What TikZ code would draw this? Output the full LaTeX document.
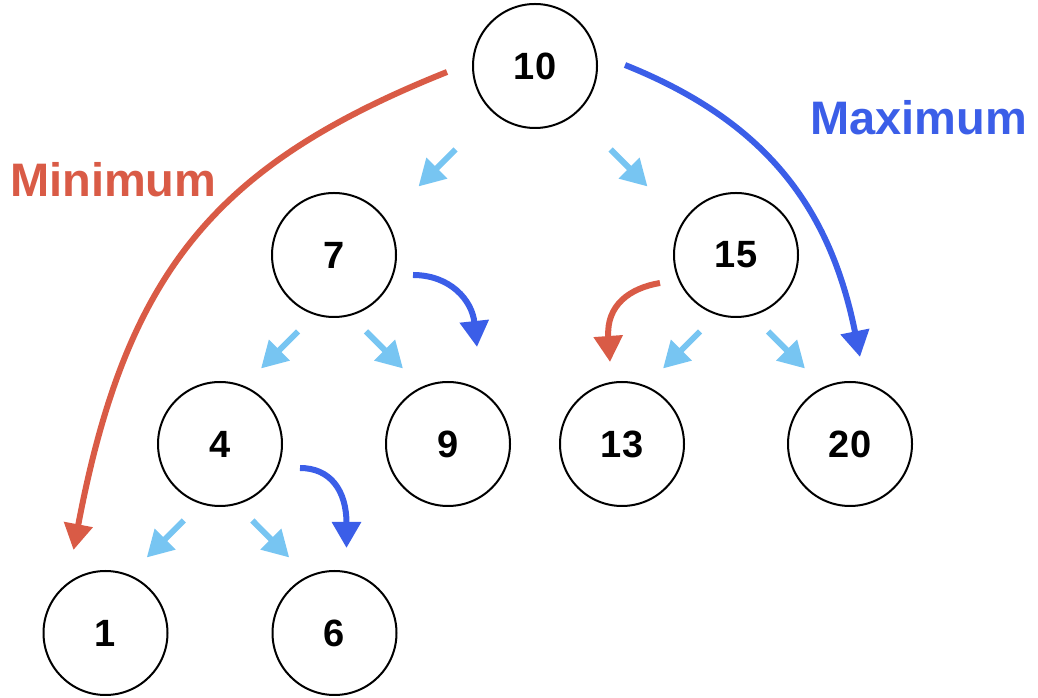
\documentclass[tikz,border=0pt]{standalone}
\usepackage{fontspec}
\setmainfont{Liberation Sans}
\usepackage{xcolor}
\usepackage{tikz}
\usetikzlibrary{trees,calc,arrows.meta}

\definecolor{minred}{HTML}{D95B46}
\definecolor{maxblue}{HTML}{3B5EE8}
\definecolor{stepblue}{HTML}{77C5F2}

\begin{document}
\begin{tikzpicture}[x=1pt,y=1pt,level distance=189pt,
  level 1/.style={sibling distance=402pt},
  level 2/.style={sibling distance=228pt},
  level 3/.style={sibling distance=229pt},
  edge from parent/.style={draw=none},
  keynode/.style={circle,draw,line width=2pt,minimum size=124pt,font=\fontsize{38}{45}\selectfont\bfseries},
  tagtext/.style={anchor=base west,inner sep=0pt,font=\fontsize{47}{56}\selectfont\bfseries},
  childarrow/.style={color=stepblue,line width=6pt,-{Triangle[length=26pt,width=28pt]}},
  minarrow/.style={color=minred,line width=6pt,-{Triangle[length=26pt,width=28pt]}},
  maxarrow/.style={color=maxblue,line width=6pt,-{Triangle[length=26pt,width=28pt]}}]
  \useasboundingbox (0,0) rectangle (1038,698);
  \node[keynode] (n10) at (535,632) {10}
    child { node[keynode] (n7) {7}
      child { node[keynode] (n4) {4}
        child { node[keynode] (n1) {1} }
        child { node[keynode] (n6) {6} }
      }
      child { node[keynode] (n9) {9} }
    }
    child { node[keynode] (n15) {15}
      child { node[keynode] (n13) {13} }
      child { node[keynode] (n20) {20} }
    };
  % short arrows from parent to child
  \draw[childarrow] ($(n10)!.5!(n7)+(21,11)$) -- ++(-37,-37);
  \draw[childarrow] ($(n10)!.5!(n15)+(-25,11)$) -- ++(37,-37);
  \draw[childarrow] ($(n7)!.5!(n4)+(21,18)$) -- ++(-37,-37);
  \draw[childarrow] ($(n7)!.5!(n9)+(-25,18)$) -- ++(37,-37);
  \draw[childarrow] ($(n4)!.5!(n1)+(21,18)$) -- ++(-37,-37);
  \draw[childarrow] ($(n4)!.5!(n6)+(-25,18)$) -- ++(37,-37);
  \draw[childarrow] ($(n15)!.5!(n13)+(21,18)$) -- ++(-37,-37);
  \draw[childarrow] ($(n15)!.5!(n20)+(-25,18)$) -- ++(37,-37);
  % minimum and maximum
  \node[tagtext,minred] (minlabel) at (10,501) {Minimum};
  \node[tagtext,maxblue] (maxlabel) at (810,563) {Maximum};
  \draw[minarrow] ([shift={(-88,-6)}]n10.center) .. controls +(-230,-92) and +(53,280) .. ([shift={(-32,83)}]n1.center);
  \draw[maxarrow] ([shift={(90,1)}]n10.center) .. controls +(140,-56) and +(-30,150) .. ([shift={(10,87)}]n20.center);
  \draw[maxarrow] ([shift={(79,-20)}]n7.center) .. controls +(37,0) and +(-5,47) .. ([shift={(29,97)}]n9.center);
  \draw[maxarrow] ([shift={(80,-24)}]n4.center) .. controls +(30,0) and +(0,58) .. ([shift={(12,85)}]n6.center);
  \draw[minarrow] ([shift={(-76,-28)}]n15.center) .. controls +(-30,-5) and +(-4,57) .. ([shift={(-12,82)}]n13.center);
\end{tikzpicture}
\end{document}
